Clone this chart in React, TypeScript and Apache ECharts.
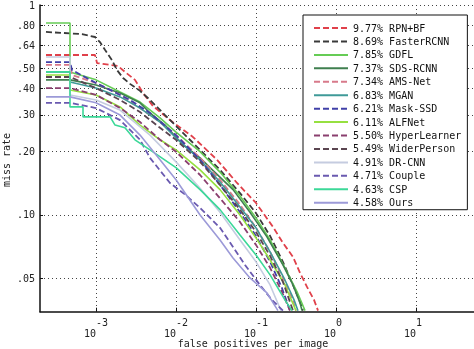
import React, { useEffect, useRef } from 'react';
import * as echarts from 'echarts';

const methods = ['RPN+BF', 'FasterRCNN', 'GDFL', 'SDS-RCNN', 'AMS-Net', 'MGAN', 'Mask-SSD', 'ALFNet', 'HyperLearner', 'WiderPerson', 'DR-CNN', 'Couple', 'CSP', 'Ours'];
const rates = ['9.77', '8.69', '7.85', '7.37', '7.34', '6.83', '6.21', '6.11', '5.50', '5.49', '4.91', '4.71', '4.63', '4.58'];
const colors = ['#e0404a', '#3a3a3a', '#66cc55', '#3f7f4f', '#d87a8a', '#3f9a98', '#4040a8', '#96e040', '#8a3f6e', '#5a4550', '#c5cce0', '#6a5ab0', '#3cd898', '#9c9ad8'];
const dashed = [true, true, false, false, true, false, true, false, true, true, false, true, false, false];

const rpnbfFppi = [2.37e-4, 9.72e-4, 1.03e-3, 1.88e-3, 2.3e-3, 3.07e-3, 3.87e-3, 5.16e-3, 8.41e-3, 0.0163, 0.0326, 0.0579, 0.1, 0.163, 0.217, 0.29, 0.355, 0.434, 0.531, 0.596];
const rpnbfMiss = [0.578, 0.578, 0.529, 0.512, 0.48, 0.44, 0.381, 0.33, 0.283, 0.235, 0.183, 0.142, 0.114, 0.0877, 0.0736, 0.0631, 0.053, 0.0454, 0.0394, 0.035];

const fasterFppi = [2.37e-4, 6.68e-4, 9.72e-4, 1.12e-3, 1.3e-3, 1.58e-3, 1.83e-3, 2.18e-3, 2.66e-3, 3.55e-3, 4.73e-3, 7.29e-3, 0.0112, 0.02, 0.0355, 0.0631, 0.1, 0.15, 0.217, 0.29, 0.355, 0.387];
const fasterMiss = [0.744, 0.727, 0.704, 0.666, 0.61, 0.547, 0.49, 0.449, 0.421, 0.39, 0.353, 0.299, 0.254, 0.204, 0.164, 0.127, 0.102, 0.0794, 0.0598, 0.0464, 0.0385, 0.035];

const gdflFppi = [2.37e-4, 4.73e-4, 4.73e-4, 1e-3, 2e-3, 3.55e-3, 6.31e-3, 0.01, 0.02, 0.0355, 0.0631, 0.1, 0.15, 0.23, 0.326, 0.41];
const gdflMiss = [0.821, 0.821, 0.48, 0.44, 0.385, 0.345, 0.29, 0.248, 0.2, 0.16, 0.123, 0.0968, 0.076, 0.056, 0.043, 0.035];

const sdsFppi = [2.37e-4, 4.73e-4, 1e-3, 2e-3, 3.55e-3, 4.73e-3, 7.29e-3, 0.0122, 0.02, 0.0266, 0.0516, 0.0841, 0.137, 0.217, 0.29, 0.355, 0.376];
const sdsMiss = [0.44, 0.44, 0.416, 0.381, 0.342, 0.306, 0.268, 0.216, 0.187, 0.168, 0.132, 0.103, 0.0786, 0.0578, 0.0464, 0.0381, 0.035];

const amsFppi = [2.37e-4, 4.73e-4, 5.01e-4, 1e-3, 2e-3, 3.55e-3, 6.31e-3, 0.01, 0.02, 0.0355, 0.0631, 0.1, 0.15, 0.217, 0.282, 0.316];
const amsMiss = [0.518, 0.518, 0.464, 0.425, 0.373, 0.323, 0.277, 0.24, 0.187, 0.147, 0.112, 0.0868, 0.0667, 0.0501, 0.0403, 0.035];

const mganFppi = [2.37e-4, 4.73e-4, 4.73e-4, 1e-3, 2e-3, 3.55e-3, 6.31e-3, 0.01, 0.02, 0.0355, 0.0631, 0.1, 0.15, 0.23, 0.299, 0.335];
const mganMiss = [0.48, 0.48, 0.43, 0.402, 0.365, 0.323, 0.277, 0.233, 0.183, 0.1436, 0.109, 0.0868, 0.0667, 0.049, 0.0394, 0.035];

const maskFppi = [2.37e-4, 4.73e-4, 5.01e-4, 1e-3, 1.5e-3, 2.66e-3, 4.73e-3, 0.01, 0.02, 0.0355, 0.0631, 0.1, 0.15, 0.211, 0.266];
const maskMiss = [0.535, 0.535, 0.49, 0.425, 0.394, 0.353, 0.306, 0.24, 0.183, 0.139, 0.103, 0.0794, 0.0598, 0.0449, 0.035];

const alfFppi = [2.37e-4, 4.73e-4, 4.73e-4, 1e-3, 2e-3, 3.55e-3, 6.31e-3, 0.01, 0.02, 0.0355, 0.0631, 0.1, 0.15, 0.23, 0.316];
const alfMiss = [0.464, 0.464, 0.394, 0.373, 0.327, 0.268, 0.228, 0.204, 0.164, 0.132, 0.1, 0.0777, 0.061, 0.0464, 0.035];

const hyperFppi = [2.37e-4, 4.73e-4, 1e-3, 2e-3, 3.55e-3, 6.31e-3, 0.01, 0.02, 0.0355, 0.0631, 0.1, 0.15, 0.211, 0.266];
const hyperMiss = [0.402, 0.402, 0.373, 0.323, 0.277, 0.228, 0.2, 0.155, 0.12, 0.0926, 0.072, 0.056, 0.043, 0.035];

const widerFppi = [2.37e-4, 4.73e-4, 1e-3, 2e-3, 3.55e-3, 6.31e-3, 0.01, 0.02, 0.0355, 0.0631, 0.1, 0.15, 0.217, 0.29];
const widerMiss = [0.454, 0.454, 0.402, 0.353, 0.309, 0.26, 0.228, 0.179, 0.139, 0.106, 0.083, 0.0638, 0.048, 0.035];

const drcnnFppi = [2.37e-4, 4.73e-4, 4.73e-4, 1e-3, 2e-3, 4.73e-3, 0.01, 0.02, 0.0355, 0.0631, 0.1, 0.15, 0.205];
const drcnnMiss = [0.565, 0.565, 0.373, 0.353, 0.316, 0.24, 0.179, 0.134, 0.103, 0.076, 0.0598, 0.0464, 0.035];

const coupleFppi = [2.37e-4, 4.73e-4, 1e-3, 2e-3, 3.55e-3, 4.73e-3, 8.41e-3, 0.013, 0.02, 0.0355, 0.0516, 0.0729, 0.112, 0.158, 0.217];
const coupleMiss = [0.342, 0.342, 0.323, 0.283, 0.228, 0.187, 0.142, 0.125, 0.108, 0.0868, 0.0704, 0.0578, 0.0464, 0.0394, 0.035];

const cspFppi = [2.37e-4, 4.73e-4, 4.73e-4, 6.88e-4, 6.88e-4, 1.5e-3, 1.73e-3, 2.3e-3, 3.07e-3, 4.73e-3, 0.01, 0.02, 0.0355, 0.0631, 0.1, 0.15, 0.23, 0.282];
const cspMiss = [0.48, 0.48, 0.327, 0.327, 0.293, 0.293, 0.268, 0.26, 0.228, 0.204, 0.168, 0.132, 0.106, 0.0803, 0.0645, 0.0518, 0.0394, 0.035];

const oursFppi = [2.37e-4, 4.73e-4, 1e-3, 2e-3, 3.55e-3, 6.31e-3, 0.01, 0.02, 0.0355, 0.0516, 0.0841, 0.137, 0.188];
const oursMiss = [0.365, 0.365, 0.342, 0.299, 0.24, 0.183, 0.147, 0.1, 0.076, 0.0624, 0.0501, 0.0425, 0.035];

const curveFppi = [rpnbfFppi, fasterFppi, gdflFppi, sdsFppi, amsFppi, mganFppi, maskFppi, alfFppi, hyperFppi, widerFppi, drcnnFppi, coupleFppi, cspFppi, oursFppi];
const curveMiss = [rpnbfMiss, fasterMiss, gdflMiss, sdsMiss, amsMiss, mganMiss, maskMiss, alfMiss, hyperMiss, widerMiss, drcnnMiss, coupleMiss, cspMiss, oursMiss];

const xTickValues = [0.001, 0.01, 0.1, 1, 10];
const yTickValues = [0.05, 0.1, 0.2, 0.3, 0.4, 0.5, 0.64, 0.8, 1];
const yTickLabels = ['.05', '.10', '.20', '.30', '.40', '.50', '.64', '.80', '1'];

const MONO = '"DejaVu Sans Mono", "Liberation Mono", monospace';

export default function App() {
  const ref = useRef<HTMLDivElement>(null);
  useEffect(() => {
    if (!ref.current) return;
    const chart = echarts.init(ref.current, null, { renderer: 'svg' });
    const names = methods.map((m, i) => `${rates[i]}% ${m}`);
    const series = names.map((name, i) => ({
      name,
      type: 'line',
      data: curveFppi[i].map((x, j) => [x, curveMiss[i][j]]),
      symbol: 'none',
      showSymbol: false,
      silent: true,
      clip: true,
      itemStyle: { color: colors[i] },
      lineStyle: { color: colors[i], width: dashed[i] ? 1.8 : 1.6, type: dashed[i] ? [6, 3] : 'solid' },
    }));
    chart.setOption({
      animation: false,
      grid: { left: 40, top: 5, bottom: 37.3, right: -22, containLabel: false, outerBoundsMode: 'none' },
      xAxis: {
        type: 'log',
        logBase: 10,
        min: 0.0001995,
        max: 100,
        axisLine: { show: true, lineStyle: { color: '#111', width: 1.5 } },
        axisTick: { show: true, inside: true, length: 4, lineStyle: { color: '#111' }, customValues: xTickValues },
        splitLine: { show: true, lineStyle: { color: '#444', width: 1, type: [1, 3] } },
        axisLabel: {
          customValues: xTickValues,
          margin: 6,
          formatter: (v: number) => {
            const e = Math.round(Math.log10(v));
            const s = String(e);
            return `{${s.length > 1 ? 'e2' : 'e1'}|${s}}\n{b|10}`;
          },
          rich: {
            e2: { fontFamily: MONO, fontSize: 10, lineHeight: 10.5, color: '#222', padding: [0, 0, 0, 12] },
            e1: { fontFamily: MONO, fontSize: 10, lineHeight: 10.5, color: '#222', padding: [0, 6, 0, 12] },
            b: { fontFamily: MONO, fontSize: 10, lineHeight: 10.5, color: '#222', padding: [0, 12, 0, 0] },
          },
        },
      },
      yAxis: {
        type: 'log',
        logBase: 10,
        min: 0.0346,
        max: 1,
        axisLine: { show: true, lineStyle: { color: '#111', width: 1.5 } },
        axisTick: { show: true, inside: true, length: 3, lineStyle: { color: '#111' }, customValues: yTickValues },
        splitLine: { show: true, lineStyle: { color: '#444', width: 1, type: [1, 3] } },
        axisLabel: {
          customValues: yTickValues,
          margin: 5,
          fontFamily: MONO,
          fontSize: 10,
          color: '#222',
          formatter: (v: number) => {
            let best = 0;
            yTickValues.forEach((t, i) => {
              if (Math.abs(t - v) < Math.abs(yTickValues[best] - v)) best = i;
            });
            return yTickLabels[best];
          },
        },
      },
      legend: {
        data: names,
        orient: 'vertical',
        left: 303,
        top: 15,
        itemWidth: 34,
        itemHeight: 12,
        itemGap: 3.44,
        padding: [8, 6, 2, 10],
        backgroundColor: '#fff',
        borderColor: '#111',
        borderWidth: 1,
        selectedMode: false,
        itemStyle: { opacity: 0 },
        textStyle: { fontFamily: MONO, fontSize: 10, color: '#111' },
      },
      graphic: [
        {
          type: 'text',
          x: 253,
          y: 343,
          style: { text: 'false positives per image', fontFamily: MONO, fontSize: 10, fill: '#222', align: 'center', verticalAlign: 'middle' },
        },
        {
          type: 'text',
          x: 6.5,
          y: 160,
          rotation: Math.PI / 2,
          style: { text: 'miss rate', fontFamily: MONO, fontSize: 10, fill: '#222', align: 'center', verticalAlign: 'middle' },
        },
      ],
      series,
    });
    return () => chart.dispose();
  }, []);
  return <div ref={ref} style={{ position: 'fixed', left: 0, top: 0, width: 474, height: 349 }} />;
}
